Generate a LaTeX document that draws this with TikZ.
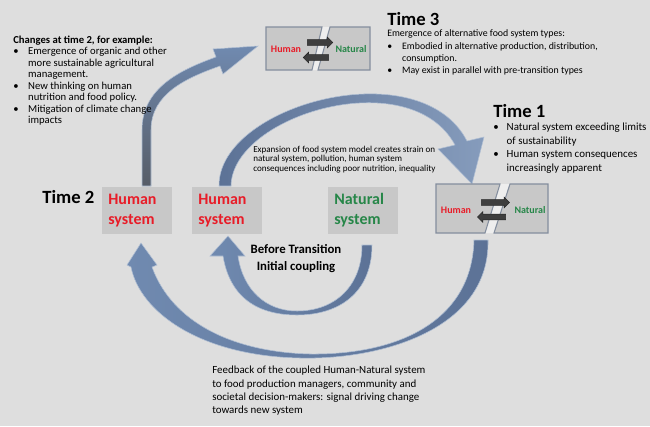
\documentclass[tikz,border=0pt]{standalone}
\usepackage{fontspec}
\setmainfont{Carlito}
\usetikzlibrary{shapes.arrows,positioning,calc}
\definecolor{bggray}{RGB}{222,222,222}
\definecolor{boxgray}{RGB}{200,200,200}
\definecolor{humanred}{RGB}{232,28,40}
\definecolor{naturalgreen}{RGB}{38,134,72}
\definecolor{arrowblue}{RGB}{112,138,176}
\definecolor{arrowdeep}{RGB}{92,114,150}
\definecolor{arrowdark}{RGB}{86,92,102}
\definecolor{edgegray}{RGB}{132,142,158}
\definecolor{gapwhite}{RGB}{238,238,238}
\definecolor{swapgray}{RGB}{62,62,62}

\begin{document}
\begin{tikzpicture}[x=0.75pt, y=-0.75pt,
    sysbox/.style={fill=boxgray, inner xsep=5pt, text width=43pt, minimum height=35pt,
        align=left, font=\fontsize{12}{15}\selectfont\bfseries},
    partbox/.style={fill=boxgray, draw=edgegray, line width=0.8pt},
    swaparrow/.style={single arrow, fill=swapgray, draw=black!85, line width=0.4pt,
        inner sep=2pt, single arrow head extend=1.8pt, minimum height=19pt},
    ribbon/.style={draw=arrowblue!55!white, line width=0.4pt},
    smalltag/.style={font=\fontsize{7.5}{9}\selectfont\bfseries},
    timetitle/.style={anchor=base west, inner sep=0pt, font=\fontsize{14}{16}\selectfont\bfseries}]
    \useasboundingbox (0,0) rectangle (650,426);
    \fill[bggray] (0,0) rectangle (650,426);

    % Time 2 -> Time 3
    \shade[ribbon, top color=arrowblue, bottom color=arrowdark]
        (142,186) -- (142,130) .. controls (142,88) and (180,70) .. (216,57)
        -- (213,49) -- (258,46) -- (223,74) -- (220,66)
        .. controls (186,78) and (151,94) .. (151,130) -- (151,186) -- cycle;
    % expansion arc
    \shade[ribbon, left color=arrowdeep, right color=arrowblue!85!white]
        (219,186) .. controls (218,105) and (420,50) .. (467,141)
        -- (484,137) -- (472,184) -- (438,149) -- (455,145)
        .. controls (410,62) and (232,115) .. (231,186) -- cycle;
    % feedback arc
    \shade[ribbon, left color=arrowblue, right color=arrowdeep]
        (488,240) .. controls (490,330) and (380,360) .. (300,358)
        .. controls (200,356) and (140,312) .. (131,267)
        -- (127,265) -- (141,243) -- (157,265) -- (152,267)
        .. controls (172,322) and (232,352) .. (310,354)
        .. controls (400,355) and (472,320) .. (474,240) -- cycle;
    % initial coupling loop
    \shade[ribbon, left color=arrowblue, right color=arrowdeep]
        (372,245) .. controls (372,292) and (340,315) .. (297,315)
        .. controls (258,315) and (230,298) .. (223,256)
        -- (210,256) -- (228,236) -- (245,256) -- (238,256)
        .. controls (243,290) and (266,311) .. (297,311)
        .. controls (335,311) and (362,286) .. (362,245) -- cycle;

    % system boxes
    \node[sysbox, text=humanred] (hum2) at (137,210.5) {Human\\system};
    \node[sysbox, text=humanred] (hum0) at (227,210.5) {Human\\system};
    \node[sysbox, text=naturalgreen] (nat0) at (363,210.5) {Natural\\system};
    \node[timetitle] (t2) at (42,203) {Time 2};
    \node[font=\fontsize{9.6}{12.8}\selectfont\bfseries, align=center] (before) at (296,259)
        {Before Transition\\Initial coupling};

    % Time 3 coupled box
    \fill[gapwhite] (322,27) -- (330,27) -- (318,70) -- (312,70) -- cycle;
    \draw[partbox] (266,27) -- (322,27) -- (312,70) -- (266,70) -- cycle;
    \draw[partbox] (330,27) -- (370,27) -- (370,70) -- (318,70) -- cycle;
    \node[smalltag, text=humanred] (t3h) at (286,49) {Human};
    \node[smalltag, text=naturalgreen] (t3n) at (351,49) {Natural};
    \node[swaparrow] (t3ab) at (318.5,42.5) {};
    \node[swaparrow, shape border rotate=180] (t3ba) at (317.5,57.5) {};

    % Time 1 coupled box
    \fill[gapwhite] (500,184) -- (510,184) -- (494,233) -- (485,233) -- cycle;
    \draw[partbox] (436,184) -- (500,184) -- (485,233) -- (436,233) -- cycle;
    \draw[partbox] (510,184) -- (548,184) -- (548,233) -- (494,233) -- cycle;
    \node[smalltag, text=humanred] (t1h) at (456,210) {Human};
    \node[smalltag, text=naturalgreen] (t1n) at (530,210) {Natural};
    \node[swaparrow, minimum height=21pt] (t1ab) at (494,202.5) {};
    \node[swaparrow, minimum height=21pt, shape border rotate=180] (t1ba) at (493,217) {};

    % texts
    \node[anchor=north west, inner sep=0pt, font=\fontsize{8}{8.6}\selectfont] (changes) at (13,35)
        {\begin{tabular}{@{}l@{\hspace{7.2pt}}l@{}}
        \multicolumn{2}{@{}l}{\bfseries Changes at time 2, for example:}\\
        \textbullet & Emergence of organic and other\\
         & more sustainable agricultural\\
         & management.\\
        \textbullet & New thinking on human\\
         & nutrition and food policy.\\
        \textbullet & Mitigation of climate change\\
         & impacts
        \end{tabular}};
    \node[timetitle] (t3) at (387,25) {Time 3};
    \node[anchor=north west, inner sep=0pt, font=\fontsize{7.4}{9.2}\selectfont] (t3text) at (387,28)
        {\begin{tabular}{@{}l@{\hspace{7.5pt}}l@{}}
        \multicolumn{2}{@{}l}{Emergence of alternative food system types:}\\
        \textbullet & Embodied in alternative production, distribution,\\
         & consumption.\\
        \textbullet & May exist in parallel with pre-transition types
        \end{tabular}};
    \node[timetitle] (t1) at (493,117) {Time 1};
    \node[anchor=north west, inner sep=0pt, font=\fontsize{8.2}{10.2}\selectfont] (t1text) at (493,121)
        {\begin{tabular}{@{}l@{\hspace{6pt}}l@{}}
        \textbullet & Natural system exceeding limits\\
         & of sustainability\\
        \textbullet & Human system consequences\\
         & increasingly apparent
        \end{tabular}};
    \node[anchor=north west, inner sep=0pt, align=left, font=\fontsize{6.8}{7}\selectfont] (expand) at (253,146)
        {Expansion of food system model creates strain on\\
        natural system, pollution, human system\\
        consequences including poor nutrition, inequality};
    \node[anchor=north west, inner sep=0pt, align=left, font=\fontsize{8.2}{10}\selectfont] (feedback) at (212,366)
        {Feedback of the coupled Human-Natural system\\
        to food production managers, community and\\
        societal decision-makers: signal driving change\\
        towards new system};
\end{tikzpicture}
\end{document}
